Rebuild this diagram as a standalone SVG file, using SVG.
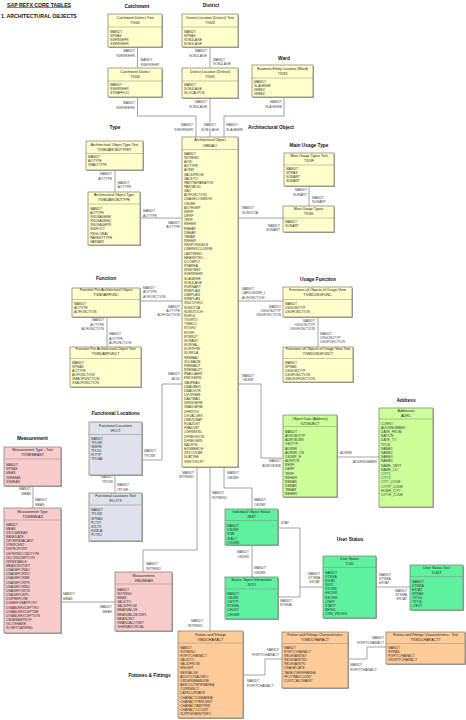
<svg xmlns="http://www.w3.org/2000/svg" width="466" height="720" viewBox="0 0 466 720">
<style>
text{font-family:"Liberation Sans",Arial,sans-serif}
.ttl{font-size:5.2px;font-weight:bold;fill:#111}
.sec{font-size:4.8px;font-weight:bold;fill:#111;text-anchor:middle}
.hd{font-size:3.6px;fill:#222;text-anchor:middle}
.f{font-size:3.4px;fill:#333}
.l{font-size:3.4px;fill:#444}
.r{text-anchor:end}
.m{text-anchor:middle;paint-order:stroke;stroke:#fff;stroke-width:1.2px}
.sh{fill:#a8a8a8}
.b{stroke:#7a7a6a;stroke-width:0.7}
.y{fill:#ffffcc}.g{fill:#dfe2ea}.p{fill:#f8cccc}.gr{fill:#5ef2a0}.lg{fill:#ccff99}.o{fill:#ffcc99}
.sep{stroke:#8a8a7a;stroke-width:0.5}
.c{fill:none;stroke:#8a8a8a;stroke-width:0.8}
</style>

<text class="ttl" x="7" y="6.5" text-decoration="underline">SAP REFX CORE TABLES</text>
<text class="ttl" x="1" y="18">1. ARCHITECTURAL OBJECTS</text>

<text class="sec" x="137" y="7.5">Catchment</text>
<text class="sec" x="211" y="7">District</text>
<text class="sec" x="284" y="60">Ward</text>
<text class="sec" x="115" y="129">Type</text>
<text class="sec" x="271" y="129">Architectural Object</text>
<text class="sec" x="309" y="146.5">Main Usage Type</text>
<text class="sec" x="106" y="280">Function</text>
<text class="sec" x="318" y="280.5">Usage Function</text>
<text class="sec" x="115.5" y="415">Functional Locations</text>
<text class="sec" x="32.5" y="440">Measurement</text>
<text class="sec" x="406" y="402">Address</text>
<text class="sec" x="350" y="541">User Status</text>
<text class="sec" x="149.5" y="677">Fixtures &amp; Fittings</text>

<g id="connectors">
<polyline class="c" points="137.5,47 137.5,68"/>
<text class="l r" x="135" y="52.3">MANDT<tspan x="135" dy="4.3">SVERKEHR</tspan></text>
<text class="l" x="140.5" y="61.3">MANDT<tspan x="140.5" dy="4.3">SVERKEHR</tspan></text>

<polyline class="c" points="137.5,97 137.5,116 196,116 196,137"/>
<text class="l r" x="135" y="104.3">MANDT<tspan x="135" dy="4.3">SVERKEHR</tspan></text>
<text class="l r" x="193" y="126.3">MANDT<tspan x="193" dy="4.3">SVERKEHR</tspan></text>

<polyline class="c" points="210,47 210,68"/>
<text class="l r" x="207" y="52.3">MANDT<tspan x="207" dy="4.3">SOBJLAGE</tspan></text>
<text class="l" x="213" y="61">MANDT<tspan x="213" dy="4.3">SOBJLAGE</tspan></text>

<polyline class="c" points="210,98 210,137"/>
<text class="l r" x="207" y="103.3">MANDT<tspan x="207" dy="4.3">SOBJLAGE</tspan></text>
<text class="l m" x="210" y="126.3">MANDT<tspan x="210" dy="4.3">SOBJLAGE</tspan></text>

<polyline class="c" points="284,97 284,116 224,116 224,137"/>
<text class="l r" x="282" y="103.3">MANDT<tspan x="282" dy="4.3">SLAGEWE</tspan></text>
<text class="l" x="226" y="126.3">MANDT<tspan x="226" dy="4.3">SLAGEWE</tspan></text>

<polyline class="c" points="115,170 115,192"/>
<text class="l r" x="112" y="175.2">MANDT<tspan x="112" dy="4.3">AOTYPE</tspan></text>
<text class="l" x="117.5" y="184">MANDT<tspan x="117.5" dy="4.3">AOTYPE</tspan></text>

<polyline class="c" points="140,218 182,218"/>
<text class="l" x="143" y="212.2">MANDT<tspan x="143" dy="4.3">AOTYPE</tspan></text>
<text class="l r" x="180" y="224">MANDT<tspan x="180" dy="4.3">AOTYPE</tspan></text>

<polyline class="c" points="238,218 283,218"/>
<text class="l" x="242" y="209.2">MANDT<tspan x="242" dy="4.3">SUNUTZA</tspan></text>
<text class="l r" x="280" y="226.5">MANDT<tspan x="280" dy="4.3">SUNART</tspan></text>

<polyline class="c" points="309,186 309,206"/>
<text class="l r" x="307" y="191.3">MANDT<tspan x="307" dy="4.3">SUNART</tspan></text>
<text class="l" x="312" y="199">MANDT<tspan x="312" dy="4.3">SUNART</tspan></text>

<polyline class="c" points="140,301 182,301"/>
<text class="l" x="143" y="289.2">MANDT<tspan x="143" dy="4.2">AOTYPE</tspan><tspan x="143" dy="4.2">AOFUNCTION</tspan></text>
<text class="l r" x="180" y="307.7">MANDT<tspan x="180" dy="4.2">AOTYPE</tspan><tspan x="180" dy="4.2">AOFUNCTION</tspan></text>

<polyline class="c" points="238,301 283,301"/>
<text class="l" x="242" y="290.2">MANDT<tspan x="242" dy="4.2">LAFUOBJNR_L</tspan><tspan x="242" dy="4.2">AOFUNCTION</tspan></text>
<text class="l r" x="281" y="307.7">MANDT<tspan x="281" dy="4.2">USGOBJTYP</tspan><tspan x="281" dy="4.2">USGFUNCTION</tspan></text>

<polyline class="c" points="107,317 107,347"/>
<text class="l r" x="104" y="321.2">MANDT<tspan x="104" dy="4.3">AOTYPE</tspan><tspan x="104" dy="4.3">AOFUNCTION</tspan></text>
<text class="l" x="109" y="335.2">MANDT<tspan x="109" dy="4.3">AOTYPE</tspan><tspan x="109" dy="4.3">AOFUNCTION</tspan></text>

<polyline class="c" points="318,317 318,347"/>
<text class="l r" x="315" y="322">MANDT<tspan x="315" dy="4.2">USGOBJTYP</tspan><tspan x="315" dy="4.2">USGFUNCTION</tspan></text>
<text class="l" x="320" y="335">MANDT<tspan x="320" dy="4.2">USGOBJTYP</tspan><tspan x="320" dy="4.2">USGFUNCTION</tspan></text>

<polyline class="c" points="182,384 162,384 162,460 142,460"/>
<text class="l r" x="180" y="375.2">MANDT<tspan x="180" dy="4.3">AOID</tspan></text>
<text class="l" x="144" y="452.2">MANDT<tspan x="144" dy="4.3">TPLNR</tspan></text>

<polyline class="c" points="115,475 115,493"/>
<text class="l r" x="113" y="478.2">MANDT<tspan x="113" dy="4.3">TPLNR</tspan></text>
<text class="l" x="117" y="486.2">MANDT<tspan x="117" dy="4.3">TPLNR</tspan></text>

<polyline class="c" points="33,486 33,508"/>
<text class="l r" x="31" y="490.2">MANDT<tspan x="31" dy="4.3">MEAS</tspan></text>
<text class="l" x="35" y="501.2">MANDT<tspan x="35" dy="4.3">MEAS</tspan></text>

<polyline class="c" points="61,602 115,602"/>
<text class="l" x="63" y="595.2">MANDT<tspan x="63" dy="4.3">MEAS</tspan></text>
<text class="l r" x="112" y="608.2">MANDT<tspan x="112" dy="4.3">MEAS</tspan></text>

<polyline class="c" points="197,467 197,550 143,550 143,572"/>
<text class="l r" x="194" y="473.7">MANDT<tspan x="194" dy="4.3">INTRENO</tspan></text>
<text class="l" x="146" y="565.2">MANDT<tspan x="146" dy="4.3">INTRENO</tspan></text>

<polyline class="c" points="210,467 210,631"/>
<text class="l" x="212" y="494.2">MANDT<tspan x="212" dy="4.3">INTRENO</tspan></text>
<text class="l r" x="203" y="622.2">MANDT<tspan x="203" dy="4.3">INTRENO</tspan></text>

<polyline class="c" points="224,467 224,488 252,488 252,509"/>
<text class="l" x="227" y="474.2">MANDT<tspan x="227" dy="4.3">OBJNR</tspan></text>
<text class="l" x="254" y="501.2">MANDT<tspan x="254" dy="4.3">OBJNR</tspan></text>

<polyline class="c" points="252,545 252,577"/>
<text class="l r" x="249" y="553.2">MANDT<tspan x="249" dy="4.3">OBJNR</tspan></text>
<text class="l" x="254" y="569.2">MANDT<tspan x="254" dy="4.3">OBJNR</tspan></text>

<polyline class="c" points="278,528 300,528 300,587 323,587"/>
<text class="l" x="281" y="524.2">STAT</text>
<text class="l r" x="320" y="574.7">MANDT<tspan x="320" dy="4.1">STSMA</tspan><tspan x="320" dy="4.1">ESTAT</tspan></text>

<polyline class="c" points="278,597 300,597 300,587"/>
<text class="l" x="280" y="602">MANDT<tspan x="280" dy="4.3">STSMA</tspan></text>

<polyline class="c" points="376,587 410,587"/>
<text class="l" x="379" y="576.2">MANDT<tspan x="379" dy="4.1">STSMA</tspan><tspan x="379" dy="4.1">ESTAT</tspan></text>
<text class="l r" x="407" y="592.2">MANDT<tspan x="407" dy="4.1">STSMA</tspan><tspan x="407" dy="4.1">ESTAT</tspan></text>

<polyline class="c" points="238,384 261,384 261,458 283,458"/>
<text class="l" x="242" y="377">MANDT<tspan x="242" dy="4.3">OBJNR</tspan></text>
<text class="l r" x="281" y="462.2">MANDT<tspan x="281" dy="4.3">ADROBJNR</tspan></text>

<polyline class="c" points="337,457 379,457"/>
<text class="l" x="340" y="454">ADRNR</text>
<text class="l r" x="377" y="463">ADDRNUMBER</text>

<polyline class="c" points="243,675 265,675 265,659 282,659"/>
<text class="l" x="247" y="682.2">MANDT<tspan x="247" dy="4.3">FIXFITCHARACT</tspan></text>
<text class="l r" x="279" y="651.2">MANDT<tspan x="279" dy="4.3">FIXFITCHARACT</tspan></text>

<polyline class="c" points="348,659 367,659 367,647 386,647"/>
<text class="l r" x="384" y="639.2">MANDT<tspan x="384" dy="4.3">FIXFITCHARACT</tspan></text>
<text class="l" x="350" y="666.2">MANDT<tspan x="350" dy="4.3">FIXFITCHARACT</tspan></text>
</g>

<g id="n-tiv40">
<rect class="sh" x="109" y="15" width="54" height="33"/><rect class="b y" x="108" y="14" width="54" height="33"/>
<line class="sep" x1="108" y1="27" x2="162" y2="27"/>
<text class="hd" x="135" y="18.6">Catchment District Text</text><text class="hd" x="135" y="24.2">TIV40</text>
<text class="f" x="110" y="32.7">MANDT<tspan x="110" dy="4.1">SPRAS</tspan><tspan x="110" dy="4.1">SVERKEHR</tspan><tspan x="110" dy="4.1">SVERKEHR</tspan></text>
</g>

<g id="n-tiv44">
<rect class="sh" x="109" y="69" width="54" height="29"/><rect class="b y" x="108" y="68" width="54" height="29"/>
<line class="sep" x1="108" y1="81" x2="162" y2="81"/>
<text class="hd" x="135" y="72.6">Catchment District</text><text class="hd" x="135" y="78.2">TIV44</text>
<text class="f" x="110" y="86.2">MANDT<tspan x="110" dy="4.1">SVERKEHR</tspan><tspan x="110" dy="4.1">STRAFFICU</tspan></text>
</g>

<g id="n-tiv43">
<rect class="sh" x="183" y="15" width="56" height="33"/><rect class="b y" x="182" y="14" width="56" height="33"/>
<line class="sep" x1="182" y1="27" x2="238" y2="27"/>
<text class="hd" x="210" y="18.6">District Location (District) Text</text><text class="hd" x="210" y="24.2">TIV43</text>
<text class="f" x="184" y="32.7">MANDT<tspan x="184" dy="4.1">SPRAS</tspan><tspan x="184" dy="4.1">SOBJLAGE</tspan><tspan x="184" dy="4.1">SOBJLAGE</tspan></text>
</g>

<g id="n-tiv45">
<rect class="sh" x="183" y="69" width="56" height="30"/><rect class="b y" x="182" y="68" width="56" height="30"/>
<line class="sep" x1="182" y1="81" x2="238" y2="81"/>
<text class="hd" x="210" y="72.6">District Location (District)</text><text class="hd" x="210" y="78.2">TIV45</text>
<text class="f" x="184" y="86.2">MANDT<tspan x="184" dy="4.1">SOBJLAGE</tspan><tspan x="184" dy="4.1">SLOCALPOS</tspan></text>
</g>

<g id="n-tiv33">
<rect class="sh" x="253" y="66" width="61" height="32"/><rect class="b y" x="252" y="65" width="61" height="32"/>
<line class="sep" x1="252" y1="78" x2="313" y2="78"/>
<text class="hd" x="282.5" y="69.6">Business Entity Location (Ward)</text><text class="hd" x="282.5" y="75.2">TIV33</text>
<text class="f" x="254" y="82.5">MANDT<tspan x="254" dy="4.1">SLAGEWE</tspan><tspan x="254" dy="4.1">IWBEZ</tspan><tspan x="254" dy="4.1">IWBEZ</tspan></text>
</g>

<g id="n-vibdao">
<rect class="sh" x="183" y="138" width="56" height="330"/><rect class="b y" x="182" y="137" width="56" height="330"/>
<line class="sep" x1="182" y1="149.5" x2="238" y2="149.5"/>
<text class="hd" x="210" y="141">Architectural Object</text><text class="hd" x="210" y="146.6">VIBDAO</text>
<text class="f" x="184" y="154.7">MANDT<tspan x="184" dy="4.16">INTRENO</tspan><tspan x="184" dy="4.16">AOID</tspan><tspan x="184" dy="4.16">AOTYPE</tspan><tspan x="184" dy="4.16">AONR</tspan><tspan x="184" dy="4.16">VALIDFROM</tspan><tspan x="184" dy="4.16">VALIDTO</tspan><tspan x="184" dy="4.16">PARTSEPARATOR</tspan><tspan x="184" dy="4.16">PARTAOID</tspan><tspan x="184" dy="4.16">XAO</tspan><tspan x="184" dy="4.16">AOFUNCTION</tspan><tspan x="184" dy="4.16">USAGECOMMON</tspan><tspan x="184" dy="4.16">OBJNR</tspan><tspan x="184" dy="4.16">AUTHGRP</tspan><tspan x="184" dy="4.16">RERF</tspan><tspan x="184" dy="4.16">DERF</tspan><tspan x="184" dy="4.16">TERF</tspan><tspan x="184" dy="4.16">REHER</tspan><tspan x="184" dy="4.16">RBEAR</tspan><tspan x="184" dy="4.16">DBEAR</tspan><tspan x="184" dy="4.16">TBEAR</tspan><tspan x="184" dy="4.16">RBHER</tspan><tspan x="184" dy="4.16">RESPONSIBLE</tspan><tspan x="184" dy="4.16">USEREXCLUSIVE</tspan><tspan x="184" dy="4.16">LASTRENO</tspan><tspan x="184" dy="4.16">MEASSTRU</tspan><tspan x="184" dy="4.16">DCOMPLT</tspan><tspan x="184" dy="4.16">RSAREA</tspan><tspan x="184" dy="4.16">SINSTBEZ</tspan><tspan x="184" dy="4.16">SVERKEHR</tspan><tspan x="184" dy="4.16">SLAGEWE</tspan><tspan x="184" dy="4.16">SOBJLAGE</tspan><tspan x="184" dy="4.16">RGRNART</tspan><tspan x="184" dy="4.16">RREPLAN</tspan><tspan x="184" dy="4.16">DBEPLAN</tspan><tspan x="184" dy="4.16">RRBPLAN</tspan><tspan x="184" dy="4.16">XNUTZGRU</tspan><tspan x="184" dy="4.16">SUNUTZA</tspan><tspan x="184" dy="4.16">SUNUTZCH</tspan><tspan x="184" dy="4.16">NGRUL</tspan><tspan x="184" dy="4.16">TXGRTO</tspan><tspan x="184" dy="4.16">TXBKLC</tspan><tspan x="184" dy="4.16">NTGRO</tspan><tspan x="184" dy="4.16">NTGFL</tspan><tspan x="184" dy="4.16">NTBRUT</tspan><tspan x="184" dy="4.16">SORANT</tspan><tspan x="184" dy="4.16">SORGAL</tspan><tspan x="184" dy="4.16">SORTFRE</tspan><tspan x="184" dy="4.16">SORKDA</tspan><tspan x="184" dy="4.16">REMBAU</tspan><tspan x="184" dy="4.16">ZULBAUM</tspan><tspan x="184" dy="4.16">RREBAUT</tspan><tspan x="184" dy="4.16">RREBAUZT</tspan><tspan x="184" dy="4.16">FBAUJAHR</tspan><tspan x="184" dy="4.16">RMODERN</tspan><tspan x="184" dy="4.16">XAUFBAU</tspan><tspan x="184" dy="4.16">DBAUBEG</tspan><tspan x="184" dy="4.16">DBAUVOR</tspan><tspan x="184" dy="4.16">DVORSEE</tspan><tspan x="184" dy="4.16">DAKTBAU</tspan><tspan x="184" dy="4.16">DBSVGERE</tspan><tspan x="184" dy="4.16">XBAUGENE</tspan><tspan x="184" dy="4.16">DFERTIG</tspan><tspan x="184" dy="4.16">DVOALUES</tspan><tspan x="184" dy="4.16">DBEZUSAP</tspan><tspan x="184" dy="4.16">RDAZUST</tspan><tspan x="184" dy="4.16">RFAZUST</tspan><tspan x="184" dy="4.16">JOENNKNL</tspan><tspan x="184" dy="4.16">DFREIGVON</tspan><tspan x="184" dy="4.16">DFREIGBIS</tspan><tspan x="184" dy="4.16">BAUSTE</tspan><tspan x="184" dy="4.16">HUSBEBCH</tspan><tspan x="184" dy="4.16">XSTOCKBE</tspan><tspan x="184" dy="4.16">SLATTEE</tspan><tspan x="184" dy="4.16">XNSTOKLFT</tspan></text>
</g>

<g id="n-tivbdarobjtypet">
<rect class="sh" x="87" y="142" width="57" height="29"/><rect class="b y" x="86" y="141" width="57" height="29"/>
<line class="sep" x1="86" y1="153.5" x2="143" y2="153.5"/>
<text class="hd" x="114.5" y="145.6">Architectural Object Type Text</text><text class="hd" x="114.5" y="150.6">TIVBDAROBJTYPET</text>
<text class="f" x="88" y="157.9">MANDT<tspan x="88" dy="4">AOTYPE</tspan><tspan x="88" dy="4">XMAOTYPE</tspan></text>
</g>

<g id="n-tivbdarobjtype">
<rect class="sh" x="89" y="193" width="52" height="53"/><rect class="b y" x="88" y="192" width="52" height="53"/>
<line class="sep" x1="88" y1="204" x2="140" y2="204"/>
<text class="hd" x="114" y="196.3">Architectural Object Type</text><text class="hd" x="114" y="201.3">TIVBDAROBJTYPE</text>
<text class="f" x="90" y="209.5">MANDT<tspan x="90" dy="4.17">AOTYPE</tspan><tspan x="90" dy="4.17">XNUSAGEBE</tspan><tspan x="90" dy="4.17">XNUSAGEBU</tspan><tspan x="90" dy="4.17">XNUSAGEPR</tspan><tspan x="90" dy="4.17">SINFOCT</tspan><tspan x="90" dy="4.17">XNGLOBAL</tspan><tspan x="90" dy="4.17">PARENTTYPE</tspan><tspan x="90" dy="4.17">VARIANT</tspan></text>
</g>

<g id="n-tiv3f">
<rect class="sh" x="285" y="154" width="50" height="33"/><rect class="b y" x="284" y="153" width="50" height="33"/>
<line class="sep" x1="284" y1="165" x2="334" y2="165"/>
<text class="hd" x="309" y="156.8">Main Usage Types Text</text><text class="hd" x="309" y="162">TIV3F</text>
<text class="f" x="286" y="169.5">MANDT<tspan x="286" dy="4.1">SPRAS</tspan><tspan x="286" dy="4.1">SUNART</tspan><tspan x="286" dy="4.1">SUNART</tspan></text>
</g>

<g id="n-tiv36">
<rect class="sh" x="284" y="207" width="51" height="26"/><rect class="b y" x="283" y="206" width="51" height="26"/>
<line class="sep" x1="283" y1="218" x2="334" y2="218"/>
<text class="hd" x="308.5" y="209.6">Main Usage Types</text><text class="hd" x="308.5" y="214.6">TIV36</text>
<text class="f" x="285" y="222.9">MANDT<tspan x="285" dy="4.1">SUNART</tspan></text>
</g>

<g id="n-tivbdarfunc">
<rect class="sh" x="73" y="289" width="68" height="29"/><rect class="b y" x="72" y="288" width="68" height="29"/>
<line class="sep" x1="72" y1="299.5" x2="140" y2="299.5"/>
<text class="hd" x="106" y="291.3">Function Per Architectural Object</text><text class="hd" x="106" y="296.3">TIVBDARFUNC</text>
<text class="f" x="74" y="304.5">MANDT<tspan x="74" dy="4.2">AOTYPE</tspan><tspan x="74" dy="4.2">AOFUNCTION</tspan></text>
</g>

<g id="n-tivbdarfunct">
<rect class="sh" x="71" y="348" width="71" height="40"/><rect class="b y" x="70" y="347" width="71" height="40"/>
<line class="sep" x1="70" y1="358.5" x2="141" y2="358.5"/>
<text class="hd" x="105.5" y="350.3">Function Per Architectural Object Text</text><text class="hd" x="105.5" y="355.3">TIVBDARFUNCT</text>
<text class="f" x="72" y="363.7">MANDT<tspan x="72" dy="4.05">SPRAS</tspan><tspan x="72" dy="4.05">AOTYPE</tspan><tspan x="72" dy="4.05">AOFUNCTION</tspan><tspan x="72" dy="4.05">XMAOFUNCTION</tspan><tspan x="72" dy="4.05">XSAOFUNCTION</tspan></text>
</g>

<g id="n-tivbdusgfunc">
<rect class="sh" x="284" y="288" width="69" height="30"/><rect class="b y" x="283" y="287" width="69" height="30"/>
<line class="sep" x1="283" y1="299.5" x2="352" y2="299.5"/>
<text class="hd" x="317.5" y="291.3">Functions of Objects of Usage View</text><text class="hd" x="317.5" y="296.3">TIVBDUSGFUNC</text>
<text class="f" x="285" y="304.5">MANDT<tspan x="285" dy="4.2">USGOBJTYP</tspan><tspan x="285" dy="4.2">USGFUNCTION</tspan></text>
</g>

<g id="n-tivbdusgfunct">
<rect class="sh" x="284" y="348" width="70" height="35"/><rect class="b y" x="283" y="347" width="70" height="35"/>
<line class="sep" x1="283" y1="358.5" x2="353" y2="358.5"/>
<text class="hd" x="318" y="350.3">Functions of Objects of Usage View Text</text><text class="hd" x="318" y="355.3">TIVBDUSGFUNCT</text>
<text class="f" x="285" y="363.7">MANDT<tspan x="285" dy="4.05">SPRAS</tspan><tspan x="285" dy="4.05">USGOBJTYP</tspan><tspan x="285" dy="4.05">USGFUNCTION</tspan><tspan x="285" dy="4.05">XMUSGFUNCTION</tspan></text>
</g>

<g id="n-iflot">
<rect class="sh" x="90" y="423" width="53" height="53"/><rect class="b g" x="89" y="422" width="53" height="53"/>
<line class="sep" x1="89" y1="434.5" x2="142" y2="434.5"/>
<text class="hd" x="115.5" y="427">Functional Locations</text><text class="hd" x="115.5" y="432">IFLOT</text>
<text class="f" x="91" y="439.5">MANDT<tspan x="91" dy="4.15">TPLNR</tspan><tspan x="91" dy="4.15">IWERK</tspan><tspan x="91" dy="4.15">TPLKZ</tspan><tspan x="91" dy="4.15">FLTYP</tspan><tspan x="91" dy="4.15">TPLMA</tspan></text>
</g>

<g id="n-iflotx">
<rect class="sh" x="90" y="494" width="53" height="48"/><rect class="b g" x="89" y="493" width="53" height="48"/>
<line class="sep" x1="89" y1="505" x2="142" y2="505"/>
<text class="hd" x="115.5" y="497.3">Functional Locations Text</text><text class="hd" x="115.5" y="502.3">IFLOTX</text>
<text class="f" x="91" y="511.2">MANDT<tspan x="91" dy="4.15">TPLNR</tspan><tspan x="91" dy="4.15">SPRAS</tspan><tspan x="91" dy="4.15">PLTXT</tspan><tspan x="91" dy="4.15">KZLTX</tspan><tspan x="91" dy="4.15">KZMLA</tspan><tspan x="91" dy="4.15">PLTXU</tspan></text>
</g>

<g id="n-tivsemeast">
<rect class="sh" x="5" y="448" width="57" height="39"/><rect class="b p" x="4" y="447" width="57" height="39"/>
<line class="sep" x1="4" y1="459" x2="61" y2="459"/>
<text class="hd" x="32.5" y="451.3">Measurement Type - Text</text><text class="hd" x="32.5" y="456.3">TIVSEMEAST</text>
<text class="f" x="6" y="466.2">MANDT<tspan x="6" dy="4.1">SPRAS</tspan><tspan x="6" dy="4.1">MEAS</tspan><tspan x="6" dy="4.1">XMMEAS</tspan><tspan x="6" dy="4.1">XSMEAS</tspan></text>
</g>

<g id="n-tivsemeas">
<rect class="sh" x="5" y="509" width="57" height="125"/><rect class="b p" x="4" y="508" width="57" height="125"/>
<line class="sep" x1="4" y1="520" x2="61" y2="520"/>
<text class="hd" x="32.5" y="513">Measurement Type</text><text class="hd" x="32.5" y="518">TIVSEMEAS</text>
<text class="f" x="6" y="525.5">MANDT<tspan x="6" dy="4.15">MEAS</tspan><tspan x="6" dy="4.15">XSOLMMEAS</tspan><tspan x="6" dy="4.15">BASEDATE</tspan><tspan x="6" dy="4.15">DETERMVACANT</tspan><tspan x="6" dy="4.15">XPERCENT</tspan><tspan x="6" dy="4.15">DEPROPORT</tspan><tspan x="6" dy="4.15">DETERMCONDTYPE</tspan><tspan x="6" dy="4.15">ISCONSUMPTION</tspan><tspan x="6" dy="4.15">ISREBTABLE</tspan><tspan x="6" dy="4.15">MEASUNITDET</tspan><tspan x="6" dy="4.15">USAGEFORAO</tspan><tspan x="6" dy="4.15">USAGEFORRO</tspan><tspan x="6" dy="4.15">USAGEFORBE</tspan><tspan x="6" dy="4.15">USAGEFORPR</tspan><tspan x="6" dy="4.15">USAGEFORBU</tspan><tspan x="6" dy="4.15">USAGEFORCN</tspan><tspan x="6" dy="4.15">USAGEFORPL</tspan><tspan x="6" dy="4.15">DISPBEFORE</tspan><tspan x="6" dy="4.15">DISBEFORAPPORT</tspan><tspan x="6" dy="4.15">DISABLEEXCEPTRO</tspan><tspan x="6" dy="4.15">DISABLEEXCEPTBE</tspan><tspan x="6" dy="4.15">DISABLEEXCEPTION</tspan><tspan x="6" dy="4.15">OBJMEASPROF</tspan><tspan x="6" dy="4.15">ISCOSHARE</tspan><tspan x="6" dy="4.15">SCHEYDATEREL</tspan></text>
</g>

<g id="n-vibdmeas">
<rect class="sh" x="116" y="573" width="57" height="59"/><rect class="b p" x="115" y="572" width="57" height="59"/>
<line class="sep" x1="115" y1="584" x2="172" y2="584"/>
<text class="hd" x="143.5" y="576.5">Measurement</text><text class="hd" x="143.5" y="581.6">VIBDMEAS</text>
<text class="f" x="117" y="590.5">MANDT<tspan x="117" dy="4.19">INTRENO</tspan><tspan x="117" dy="4.19">MEAS</tspan><tspan x="117" dy="4.19">VALIDTO</tspan><tspan x="117" dy="4.19">VALIDFROM</tspan><tspan x="117" dy="4.19">MEASVALUE</tspan><tspan x="117" dy="4.19">MEASVALUECMPL</tspan><tspan x="117" dy="4.19">MEASUNIT</tspan><tspan x="117" dy="4.19">XMANUALLYSET</tspan><tspan x="117" dy="4.19">XHIERARCHICAL</tspan></text>
</g>

<g id="n-jest">
<rect class="sh" x="226" y="510" width="53" height="36"/><rect class="b gr" x="225" y="509" width="53" height="36"/>
<line class="sep" x1="225" y1="520.5" x2="278" y2="520.5"/>
<text class="hd" x="251.5" y="513">Individual Object Status</text><text class="hd" x="251.5" y="518.2">JEST</text>
<text class="f" x="227" y="526.9">MANDT<tspan x="227" dy="4.25">OBJNR</tspan><tspan x="227" dy="4.25">STAT</tspan><tspan x="227" dy="4.25">INACT</tspan><tspan x="227" dy="4.25">CHGNR</tspan></text>
</g>

<g id="n-jsto">
<rect class="sh" x="226" y="578" width="53" height="42"/><rect class="b gr" x="225" y="577" width="53" height="42"/>
<line class="sep" x1="225" y1="589" x2="278" y2="589"/>
<text class="hd" x="251.5" y="581.3">Status Object Information</text><text class="hd" x="251.5" y="586.4">JSTO</text>
<text class="f" x="227" y="594.5">MANDT<tspan x="227" dy="4.2">OBJNR</tspan><tspan x="227" dy="4.2">OBTYP</tspan><tspan x="227" dy="4.2">STSMA</tspan><tspan x="227" dy="4.2">CHGKZ</tspan><tspan x="227" dy="4.2">CHGNR</tspan></text>
</g>

<g id="n-tj30">
<rect class="sh" x="324" y="557" width="53" height="62"/><rect class="b gr" x="323" y="556" width="53" height="62"/>
<line class="sep" x1="323" y1="567.5" x2="376" y2="567.5"/>
<text class="hd" x="349.5" y="560">User Status</text><text class="hd" x="349.5" y="565.2">TJ30</text>
<text class="f" x="325" y="573.5">MANDT<tspan x="325" dy="4.17">STSMA</tspan><tspan x="325" dy="4.17">ESTAT</tspan><tspan x="325" dy="4.17">INIST</tspan><tspan x="325" dy="4.17">STONR</tspan><tspan x="325" dy="4.17">HSONR</tspan><tspan x="325" dy="4.17">NSONR</tspan><tspan x="325" dy="4.17">LINEP</tspan><tspan x="325" dy="4.17">STATP</tspan><tspan x="325" dy="4.17">BERSL</tspan><tspan x="325" dy="4.17">CRM_VRGNG</tspan></text>
</g>

<g id="n-tj30t">
<rect class="sh" x="411" y="566" width="53" height="45"/><rect class="b gr" x="410" y="565" width="53" height="45"/>
<line class="sep" x1="410" y1="576.5" x2="463" y2="576.5"/>
<text class="hd" x="436.5" y="569">User Status Text</text><text class="hd" x="436.5" y="574.2">TJ30T</text>
<text class="f" x="412" y="582.5">MANDT<tspan x="412" dy="4.1">STSMA</tspan><tspan x="412" dy="4.1">ESTAT</tspan><tspan x="412" dy="4.1">SPRAS</tspan><tspan x="412" dy="4.1">TXT04</tspan><tspan x="412" dy="4.1">TXT30</tspan><tspan x="412" dy="4.1">LTEXT</tspan></text>
</g>

<g id="n-vzobject">
<rect class="sh" x="284" y="416" width="54" height="82"/><rect class="b lg" x="283" y="415" width="54" height="82"/>
<line class="sep" x1="283" y1="426.5" x2="337" y2="426.5"/>
<text class="hd" x="310" y="419.5">Object Data (Address)</text><text class="hd" x="310" y="424.5">VZOBJECT</text>
<text class="f" x="285" y="432.9">MANDT<tspan x="285" dy="4.17">ADROBJTYP</tspan><tspan x="285" dy="4.17">ADROBJNR</tspan><tspan x="285" dy="4.17">OBJTYP</tspan><tspan x="285" dy="4.17">ADRNR</tspan><tspan x="285" dy="4.17">ADRNR_ON</tspan><tspan x="285" dy="4.17">OBJNR_H</tspan><tspan x="285" dy="4.17">ADRPOS</tspan><tspan x="285" dy="4.17">RERF</tspan><tspan x="285" dy="4.17">DERF</tspan><tspan x="285" dy="4.17">TERF</tspan><tspan x="285" dy="4.17">REHER</tspan><tspan x="285" dy="4.17">RBEAR</tspan><tspan x="285" dy="4.17">DBEAR</tspan><tspan x="285" dy="4.17">TBEAR</tspan><tspan x="285" dy="4.17">RBHER</tspan></text>
</g>

<g id="n-adrc">
<rect class="sh" x="380" y="409" width="54" height="99"/><rect class="b lg" x="379" y="408" width="54" height="99"/>
<line class="sep" x1="379" y1="419" x2="433" y2="419"/>
<text class="hd" x="406" y="411.9">Addresses</text><text class="hd" x="406" y="416.9">ADRC</text>
<text class="f" x="381" y="424.5">CLIENT<tspan x="381" dy="4.2">ADDRNUMBER</tspan><tspan x="381" dy="4.2">DATE_FROM</tspan><tspan x="381" dy="4.2">NATION</tspan><tspan x="381" dy="4.2">DATE_TO</tspan><tspan x="381" dy="4.2">TITLE</tspan><tspan x="381" dy="4.2">NAME1</tspan><tspan x="381" dy="4.2">NAME2</tspan><tspan x="381" dy="4.2">NAME3</tspan><tspan x="381" dy="4.2">NAME4</tspan><tspan x="381" dy="4.2">NAME_TEXT</tspan><tspan x="381" dy="4.2">NAME_CO</tspan><tspan x="381" dy="4.2">CITY1</tspan><tspan x="381" dy="4.2">CITY2</tspan><tspan x="381" dy="4.2">CITY_CODE</tspan><tspan x="381" dy="4.2">CITYP_CODE</tspan><tspan x="381" dy="4.2">HOME_CITY</tspan><tspan x="381" dy="4.2">CITYH_CODE</tspan><tspan x="381" dy="4.2">...</tspan></text>
</g>

<g id="n-vibdcharact">
<rect class="sh" x="179" y="632" width="65" height="87"/><rect class="b o" x="178" y="631" width="65" height="87"/>
<line class="sep" x1="178" y1="643" x2="243" y2="643"/>
<text class="hd" x="210.5" y="635.6">Fixture and Fittings</text><text class="hd" x="210.5" y="640.6">VIBDCHARACT</text>
<text class="f" x="180" y="648.5">MANDT<tspan x="180" dy="4.17">INTRENO</tspan><tspan x="180" dy="4.17">FIXFITCHARACT</tspan><tspan x="180" dy="4.17">VALIDTO</tspan><tspan x="180" dy="4.17">VALIDFROM</tspan><tspan x="180" dy="4.17">WEIGHT</tspan><tspan x="180" dy="4.17">RESVALUE</tspan><tspan x="180" dy="4.17">ADDITIONALINFO</tspan><tspan x="180" dy="4.17">ORDERMEASURE</tspan><tspan x="180" dy="4.17">ABSOLUTEPERAREA</tspan><tspan x="180" dy="4.17">CURRENCY</tspan><tspan x="180" dy="4.17">DATECURRATE</tspan><tspan x="180" dy="4.17">CHARACTUSEAREA</tspan><tspan x="180" dy="4.17">CHARACTPERCENT</tspan><tspan x="180" dy="4.17">CHARACTAMTPER</tspan><tspan x="180" dy="4.17">CHARACTCOUNT</tspan><tspan x="180" dy="4.17">SUPPLEMENTINFO</tspan></text>
</g>

<g id="n-tivbdcharact">
<rect class="sh" x="283" y="633" width="66" height="56"/><rect class="b o" x="282" y="632" width="66" height="56"/>
<line class="sep" x1="282" y1="643.5" x2="348" y2="643.5"/>
<text class="hd" x="315" y="636.3">Fixture and Fittings Characteristics</text><text class="hd" x="315" y="641.3">TIVBDCHARACT</text>
<text class="f" x="284" y="648.5">MANDT<tspan x="284" dy="4.17">FIXFITCHARACT</tspan><tspan x="284" dy="4.17">RELEVANTBO</tspan><tspan x="284" dy="4.17">RELEVANTRO</tspan><tspan x="284" dy="4.17">RELEVANTPL</tspan><tspan x="284" dy="4.17">USAGECATE</tspan><tspan x="284" dy="4.17">TAKEOVERFFAREA</tspan><tspan x="284" dy="4.17">FFCTRASCOUNT</tspan><tspan x="284" dy="4.17">CUSTCALCMAINT</tspan></text>
</g>

<g id="n-tivbdcharactt">
<rect class="sh" x="387" y="633" width="79" height="32"/><rect class="b o" x="386" y="632" width="79" height="32"/>
<line class="sep" x1="386" y1="643.5" x2="465" y2="643.5"/>
<text class="hd" x="425.5" y="636.3">Fixture and Fittings Characteristics - Text</text><text class="hd" x="425.5" y="641.3">TIVBDCHARACTT</text>
<text class="f" x="388" y="648.5">MANDT<tspan x="388" dy="4.2">SPRAS</tspan><tspan x="388" dy="4.2">FIXFITCHARACT</tspan><tspan x="388" dy="4.2">XFIXFITCHARACT</tspan></text>
</g>
</svg>
